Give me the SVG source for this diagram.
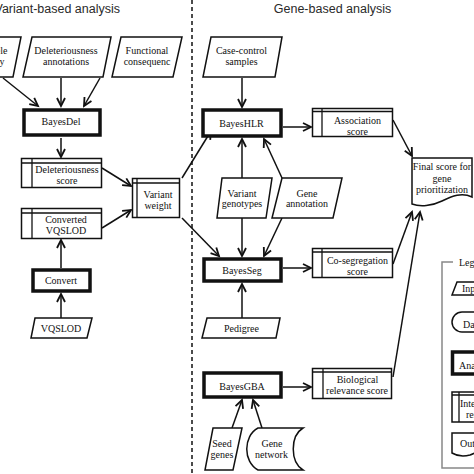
<svg xmlns="http://www.w3.org/2000/svg" width="474" height="474" viewBox="0 0 474 474">
<style>
.t{font-family:"Liberation Serif","Times New Roman",serif;font-size:10px;fill:#111;text-anchor:middle}
.te{font-family:"Liberation Serif","Times New Roman",serif;font-size:10px;fill:#111;text-anchor:end}
.ts{font-family:"Liberation Serif","Times New Roman",serif;font-size:10px;fill:#111;text-anchor:start}
.title{font-family:"Liberation Sans",Arial,sans-serif;font-size:12.5px;fill:#2a2a2a}
.io{fill:#fff;stroke:#111;stroke-width:1.5}
.an{fill:#fff;stroke:#111;stroke-width:3.5}
.im{fill:#fff;stroke:#111;stroke-width:1.5}
.ln{fill:none;stroke:#111;stroke-width:1.3}
.c{fill:none;stroke:#111;stroke-width:1.5;marker-end:url(#ah)}
</style>
<defs>
<marker id="ah" markerUnits="userSpaceOnUse" markerWidth="12" markerHeight="12" refX="9" refY="5" orient="auto" viewBox="0 0 12 10">
<path d="M1,1 L9,5 L1,9" fill="none" stroke="#111" stroke-width="1.8"/>
</marker>
</defs>
<rect width="474" height="474" fill="#fff"/>

<text class="title" x="120" y="13" text-anchor="end">Variant-based analysis</text>
<text class="title" x="332.5" y="13" text-anchor="middle">Gene-based analysis</text>
<line x1="192" y1="0" x2="192" y2="474" stroke="#111" stroke-width="1.5" stroke-dasharray="4,3"/>

<g id="connectors">
<line class="c" x1="3" y1="78" x2="38" y2="106"/>
<line class="c" x1="61" y1="78" x2="61" y2="106"/>
<line class="c" x1="100" y1="78" x2="84" y2="106"/>
<line class="c" x1="61" y1="138" x2="61" y2="157"/>
<line class="c" x1="102" y1="168" x2="131" y2="186"/>
<line class="c" x1="102" y1="228" x2="131" y2="210"/>
<line class="c" x1="61" y1="268" x2="61" y2="240"/>
<line class="c" x1="61" y1="318" x2="61" y2="294"/>
<line class="c" x1="182" y1="178" x2="211" y2="131"/>
<line class="c" x1="182" y1="218" x2="219" y2="256"/>
<line class="c" x1="242" y1="78" x2="242" y2="107"/>
<line class="c" x1="283" y1="127" x2="311" y2="127"/>
<line class="c" x1="393" y1="120" x2="412" y2="156"/>
<line class="c" x1="242" y1="178" x2="242" y2="139"/>
<line class="c" x1="282" y1="178" x2="264" y2="139"/>
<line class="c" x1="242" y1="218" x2="242" y2="256"/>
<line class="c" x1="282" y1="218" x2="264" y2="256"/>
<line class="c" x1="283" y1="268" x2="311" y2="268"/>
<line class="c" x1="393" y1="264" x2="412" y2="212"/>
<line class="c" x1="242" y1="318" x2="242" y2="284"/>
<line class="c" x1="283" y1="387" x2="311" y2="387"/>
<line class="c" x1="393" y1="377" x2="420" y2="212"/>
<line class="c" x1="232" y1="428" x2="242" y2="400"/>
<line class="c" x1="262" y1="428" x2="253" y2="400"/>
</g>

<g id="allele">
<polygon class="io" points="-60,37 21,37 13,77 -68,77"/>
<text class="te" x="7.5" y="54">Minor allele</text>
<text class="te" x="4.5" y="65">frequency</text>
</g>
<g id="delannot">
<polygon class="io" points="32,37 111,37 103,77 23,77"/>
<text class="t" x="66" y="54">Deleteriousness</text>
<text class="t" x="66" y="65">annotations</text>
</g>
<g id="funccons">
<polygon class="io" points="121,37 182,37 173,77 112,77"/>
<text class="t" x="147" y="54">Functional</text>
<text class="t" x="147" y="65">consequenc</text>
</g>
<g id="bayesdel">
<rect class="an" x="24" y="110" width="76" height="25"/>
<text class="t" x="61" y="125">BayesDel</text>
</g>
<g id="delscore">
<rect class="im" x="21.5" y="158.5" width="80" height="29"/>
<line class="ln" x1="32" y1="158.5" x2="32" y2="187.5"/>
<line class="ln" x1="21.5" y1="163" x2="101.5" y2="163"/>
<text class="t" x="67" y="173">Deleteriousness</text>
<text class="t" x="67" y="184">score</text>
</g>
<g id="convvq">
<rect class="im" x="21.5" y="208.5" width="80" height="30"/>
<line class="ln" x1="32" y1="208.5" x2="32" y2="238.5"/>
<line class="ln" x1="21.5" y1="213" x2="101.5" y2="213"/>
<text class="t" x="66" y="223">Converted</text>
<text class="t" x="66" y="234">VQSLOD</text>
</g>
<g id="convert">
<rect class="an" x="33" y="270" width="57" height="21"/>
<text class="t" x="61" y="284">Convert</text>
</g>
<g id="vqslod">
<polygon class="io" points="35,318 92,318 87,338 31,338"/>
<text class="t" x="61" y="332">VQSLOD</text>
</g>
<g id="varweight">
<rect class="im" x="132.5" y="178.5" width="47" height="39"/>
<line class="ln" x1="137" y1="178.5" x2="137" y2="217.5"/>
<line class="ln" x1="132.5" y1="183" x2="179.5" y2="183"/>
<text class="t" x="158" y="198">Variant</text>
<text class="t" x="158" y="209">weight</text>
</g>

<g id="casecontrol">
<polygon class="io" points="211,37 282,37 275,77 203,77"/>
<text class="t" x="241.5" y="54">Case-control</text>
<text class="t" x="241.5" y="65">samples</text>
</g>
<g id="bayeshlr">
<rect class="an" x="203" y="110" width="78" height="26"/>
<text class="t" x="241.5" y="127">BayesHLR</text>
</g>
<g id="assoc">
<rect class="im" x="312.5" y="108.5" width="80" height="28"/>
<line class="ln" x1="322" y1="108.5" x2="322" y2="136.5"/>
<line class="ln" x1="312.5" y1="111.5" x2="392.5" y2="111.5"/>
<text class="t" x="357.5" y="124">Association</text>
<text class="t" x="357.5" y="135">score</text>
</g>
<g id="final">
<path class="io" d="M412,158 H472 V197 C462,192 452,196 442,201 C432,206 420,207 412,204 Z"/>
<text class="t" x="442" y="170">Final score for</text>
<text class="t" x="442" y="182">gene</text>
<text class="t" x="442" y="193">prioritization</text>
</g>
<g id="vargeno">
<polygon class="io" points="222,178 272,178 266,218 217,218"/>
<text class="t" x="242" y="197">Variant</text>
<text class="t" x="242" y="207">genotypes</text>
</g>
<g id="geneannot">
<polygon class="io" points="282,178 342,178 333,218 272,218"/>
<text class="t" x="307" y="197">Gene</text>
<text class="t" x="307" y="207">annotation</text>
</g>
<g id="bayesseg">
<rect class="an" x="204" y="259" width="77" height="22"/>
<text class="t" x="242" y="274">BayesSeg</text>
</g>
<g id="coseg">
<rect class="im" x="312.5" y="248.5" width="80" height="29"/>
<line class="ln" x1="322" y1="248.5" x2="322" y2="277.5"/>
<line class="ln" x1="312.5" y1="252" x2="392.5" y2="252"/>
<text class="t" x="357.5" y="264">Co-segregation</text>
<text class="t" x="357.5" y="275">score</text>
</g>
<g id="pedigree">
<polygon class="io" points="207,318 280,318 276,338 202,338"/>
<text class="t" x="241.5" y="332">Pedigree</text>
</g>
<g id="bayesgba">
<rect class="an" x="204" y="373" width="77" height="24"/>
<text class="t" x="242" y="390">BayesGBA</text>
</g>
<g id="biorel">
<rect class="im" x="312.5" y="368.5" width="79" height="30"/>
<line class="ln" x1="323" y1="368.5" x2="323" y2="398.5"/>
<line class="ln" x1="312.5" y1="372" x2="391.5" y2="372"/>
<text class="t" x="357.5" y="383">Biological</text>
<text class="t" x="357" y="394">relevance score</text>
</g>
<g id="seedgenes">
<polygon class="io" points="213,428 242,428 233,470 205,470"/>
<text class="t" x="222" y="447">Seed</text>
<text class="t" x="222" y="458">genes</text>
</g>
<g id="genenetwork">
<path class="io" d="M258,428 H303 C290,436 290,462 303,470 H258 C243,462 243,436 258,428 Z"/>
<text class="t" x="272" y="447">Gene</text>
<text class="t" x="271.5" y="458">network</text>
</g>

<g id="legend">
<path d="M453,262 H442 V468 H480" fill="none" stroke="#888" stroke-width="1.5"/>
<text class="ts" x="459" y="266">Legend</text>
<polygon class="io" points="457,282 495,282 491,295 452,295"/>
<text class="ts" x="462" y="292">Input</text>
<path class="io" d="M462,312 H500 V332 H462 A10,10 0 0 1 462,312 Z"/>
<text class="ts" x="463" y="328">Database</text>
<rect class="an" x="452.5" y="352" width="40" height="22"/>
<text class="ts" x="459" y="369">Analysis</text>
<rect class="im" x="452" y="392" width="40" height="30"/>
<line class="ln" x1="459" y1="392" x2="459" y2="422"/>
<line class="ln" x1="452" y1="395" x2="492" y2="395"/>
<text class="ts" x="460" y="407">Intermediate</text>
<text class="ts" x="466" y="418">result</text>
<path class="io" d="M452,433 H495 V450 C485,447 478,452 470,455 C463,457 457,456 452,453 Z"/>
<text class="ts" x="460" y="447">Output</text>
</g>
</svg>
